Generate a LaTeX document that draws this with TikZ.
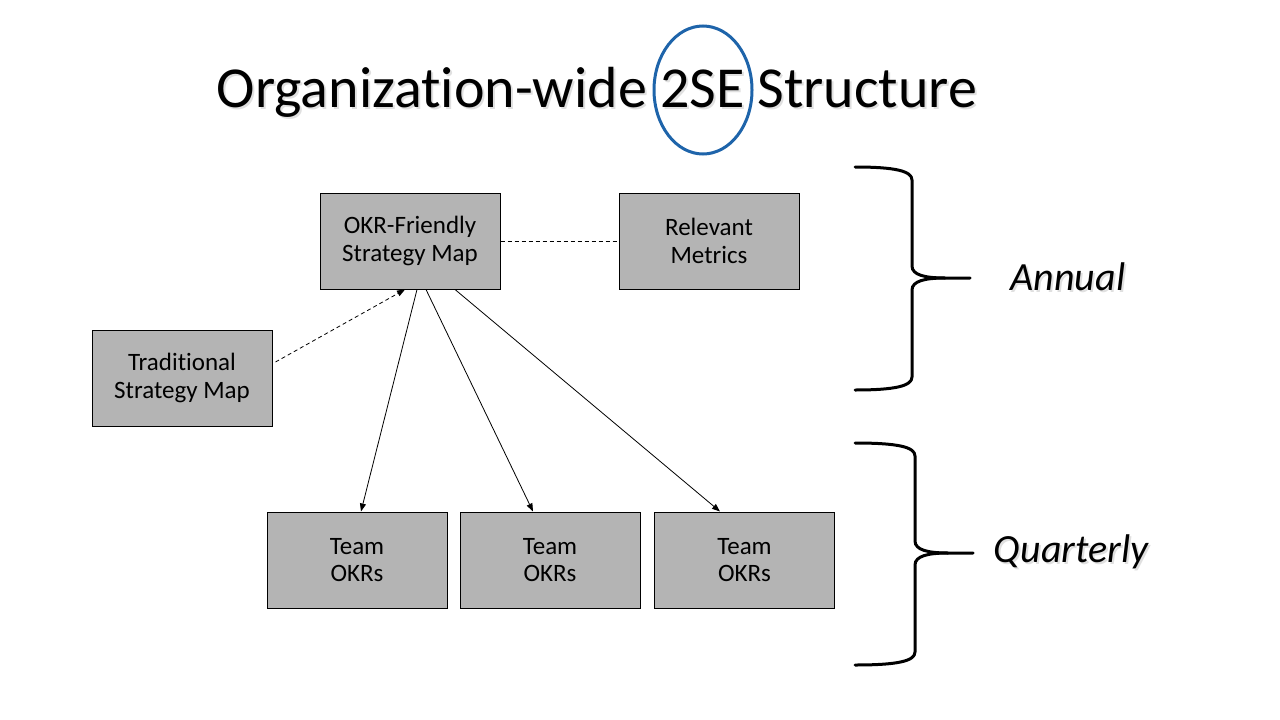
\documentclass[tikz,border=0pt]{standalone}
\usepackage{fontspec}
\setmainfont{Carlito}[Ligatures=NoCommon]
\usetikzlibrary{arrows.meta}
\definecolor{boxgray}{RGB}{180,180,180}
\definecolor{ringblue}{RGB}{30,100,170}
\tikzset{
  stratbox/.style={draw=black, line width=1pt, fill=boxgray, minimum width=180pt, minimum height=96pt, inner sep=0pt, align=center, font=\fontsize{25}{27.5}\selectfont},
  link/.style={line width=0.8pt, -{Triangle[length=8pt,width=6pt]}},
  dashlink/.style={line width=0.8pt, dash pattern=on 4pt off 3pt},
  bracket/.style={line width=3pt, line cap=round},
  sidelabel/.style={font=\fontsize{40}{48}\selectfont\itshape},
  shade/.style={text=black!30, opacity=0.4},
}
\begin{document}
\begin{tikzpicture}[x=1pt,y=-1pt]
\useasboundingbox (0,0) rectangle (1280,720);
\fill[white] (0,0) rectangle (1280,720);
% title with soft shadow
\node[shade, anchor=base, font=\fontsize{58}{70}\selectfont] (titleshadow) at (599,109) {Organization-wide 2SE Structure};
\node[anchor=base, font=\fontsize{58}{70}\selectfont] (title) at (597,107) {Organization-wide 2SE Structure};
\draw[ringblue, line width=3pt] (703,90) ellipse [x radius=49, y radius=64];
% boxes
\node[stratbox] (okr) at (410,241) {OKR-Friendly\\Strategy Map};
\node[stratbox] (rel) at (709,241) {Relevant\\Metrics};
\node[stratbox] (trad) at (182,378) {Traditional\\Strategy Map};
\node[stratbox] (team1) at (357,560) {Team\\OKRs};
\node[stratbox] (team2) at (550,560) {Team\\OKRs};
\node[stratbox] (team3) at (744.5,560) {Team\\OKRs};
% connectors
\draw[dashlink] (okr.east) -- (rel.west);
\draw[dashlink, -{Triangle[length=8pt,width=6pt]}] ([xshift=3pt,yshift=16pt]trad.east) -- ([xshift=-5pt]okr.south);
\draw[link] ([xshift=7pt]okr.south) -- ([xshift=4pt]team1.north);
\draw[link] ([xshift=16pt]okr.south) -- ([xshift=-17pt]team2.north);
\draw[link] ([xshift=45pt]okr.south) -- ([xshift=-24.5pt]team3.north);
% braces
\coordinate (annualtip) at (970,278);
\coordinate (quartertip) at (973,553);
\draw[bracket] (855,167) .. controls (895,167) and (912,171) .. (912,180) -- (912,266)
  .. controls (912,275) and (925,278) .. (945,278) -- (annualtip);
\draw[bracket] (855,390) .. controls (895,390) and (912,386) .. (912,377) -- (912,290)
  .. controls (912,281) and (925,278) .. (945,278);
\draw[bracket] (855,443) .. controls (898,443) and (915,447) .. (915,456) -- (915,541)
  .. controls (915,550) and (928,553) .. (948,553) -- (quartertip);
\draw[bracket] (855,665) .. controls (898,665) and (915,661) .. (915,652) -- (915,565)
  .. controls (915,556) and (928,553) .. (948,553);
% side labels
\node[sidelabel, shade] (annualshadow) at (1070,279) {Annual};
\node[sidelabel] (annual) at (1068,277) {Annual};
\node[sidelabel, shade] (quartershadow) at (1073,554) {Quarterly};
\node[sidelabel] (quarter) at (1071,552) {Quarterly};
\end{tikzpicture}
\end{document}
